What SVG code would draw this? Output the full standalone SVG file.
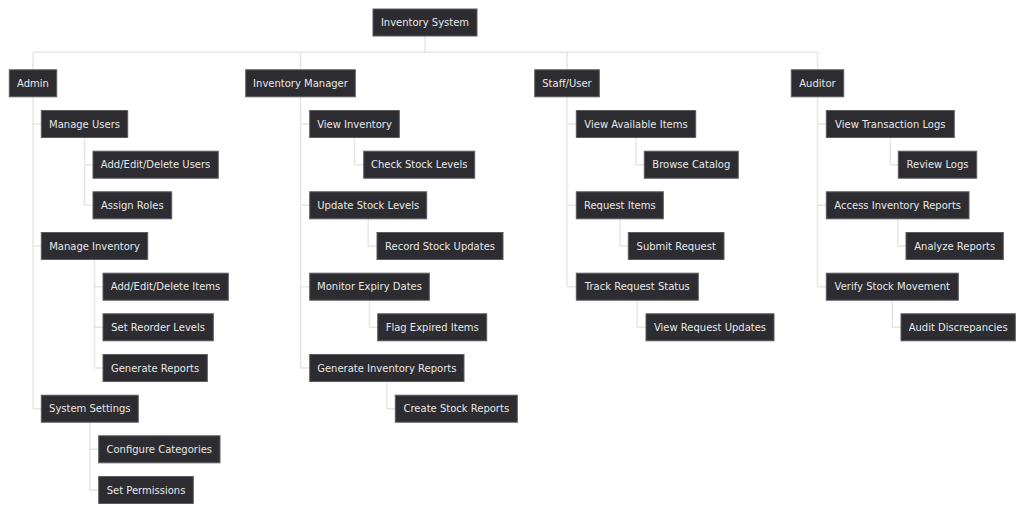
<svg xmlns="http://www.w3.org/2000/svg" width="1024" height="512" viewBox="0 0 1024 512">
<style>
.n rect{fill:#2c2c31;stroke:#5c5c60;stroke-width:1}
.n text{fill:#e8e8e8;font-family:"DejaVu Sans",sans-serif;font-size:10px;text-anchor:middle}
#connectors path{fill:none;stroke:#e6e6e6;stroke-width:1.5}
</style>
<rect width="1024" height="512" fill="#ffffff"/>
<g id="connectors">
<path d="M425 36V52.3M33 52.3H817.5M33 52.3V69.8M300.5 52.3V69.8M567 52.3V69.8M817.5 52.3V69.8"/>
<path d="M33 97V408.7M33 124H41.3M33 246H41.3M33 408.7H41.3"/>
<path d="M84.5 137.5V205.3M84.5 164.7H93M84.5 205.3H93"/>
<path d="M94.5 259.5V368M94.5 286.7H103M94.5 327.3H103M94.5 368H103"/>
<path d="M89.8 422.2V490M89.8 449.3H98.7M89.8 490H98.7"/>
<path d="M300.5 97V368M300.5 124H309.7M300.5 205.3H309.7M300.5 286.7H309.7M300.5 368H309.7"/>
<path d="M354.5 137.5V164.7H363.7M368.2 218.8V246H377M369.5 300.2V327.3H377.7M386.8 381.5V408.7H395.3"/>
<path d="M567 97V286.7M567 124H576.3M567 205.3H576.3M567 286.7H576.3"/>
<path d="M636 137.5V164.7H644.3M619.8 218.8V246H628.3M637.3 300.2V327.3H646"/>
<path d="M817.5 97V286.7M817.5 124H826.3M817.5 205.3H826.3M817.5 286.7H826.3"/>
<path d="M890.3 137.5V164.7H898.3M897.7 218.8V246H906M892.3 300.2V327.3H901"/>
</g>
<g id="root" class="n"><rect x="373" y="9" width="104" height="27"/><text x="425" y="26">Inventory System</text></g>

<g id="admin" class="n"><rect x="9.3" y="69.8" width="47.4" height="27"/><text x="33" y="86.9">Admin</text></g>
<g id="manage-users" class="n"><rect x="41.3" y="110.5" width="86.4" height="27"/><text x="84.5" y="127.6">Manage Users</text></g>
<g id="add-users" class="n"><rect x="93" y="151.2" width="125.3" height="27"/><text x="155.6" y="168.3">Add/Edit/Delete Users</text></g>
<g id="assign-roles" class="n"><rect x="93" y="191.8" width="78.7" height="27"/><text x="132.3" y="208.9">Assign Roles</text></g>
<g id="manage-inventory" class="n"><rect x="41.3" y="232.5" width="106.4" height="27"/><text x="94.5" y="249.6">Manage Inventory</text></g>
<g id="add-items" class="n"><rect x="103" y="273.2" width="125.3" height="27"/><text x="165.6" y="290.3">Add/Edit/Delete Items</text></g>
<g id="reorder" class="n"><rect x="103" y="313.8" width="110.3" height="27"/><text x="158.1" y="330.9">Set Reorder Levels</text></g>
<g id="gen-reports" class="n"><rect x="103" y="354.5" width="104.3" height="27"/><text x="155.1" y="371.6">Generate Reports</text></g>
<g id="system-settings" class="n"><rect x="41.3" y="395.2" width="97" height="27"/><text x="89.8" y="412.3">System Settings</text></g>
<g id="configure-categories" class="n"><rect x="98.7" y="435.8" width="121.3" height="27"/><text x="159.3" y="452.9">Configure Categories</text></g>
<g id="set-permissions" class="n"><rect x="98.7" y="476.5" width="94.6" height="27"/><text x="146" y="493.6">Set Permissions</text></g>

<g id="inventory-manager" class="n"><rect x="245.7" y="69.8" width="109.6" height="27"/><text x="300.5" y="86.9">Inventory Manager</text></g>
<g id="view-inventory" class="n"><rect x="309.7" y="110.5" width="89.6" height="27"/><text x="354.5" y="127.6">View Inventory</text></g>
<g id="check-stock" class="n"><rect x="363.7" y="151.2" width="111" height="27"/><text x="419.2" y="168.3">Check Stock Levels</text></g>
<g id="update-stock" class="n"><rect x="309.7" y="191.8" width="117" height="27"/><text x="368.2" y="208.9">Update Stock Levels</text></g>
<g id="record-updates" class="n"><rect x="377" y="232.5" width="126" height="27"/><text x="440" y="249.6">Record Stock Updates</text></g>
<g id="monitor-expiry" class="n"><rect x="309.7" y="273.2" width="119.6" height="27"/><text x="369.5" y="290.3">Monitor Expiry Dates</text></g>
<g id="flag-expired" class="n"><rect x="377.7" y="313.8" width="109" height="27"/><text x="432.2" y="330.9">Flag Expired Items</text></g>
<g id="gen-inv-reports" class="n"><rect x="309.7" y="354.5" width="154.3" height="27"/><text x="386.8" y="371.6">Generate Inventory Reports</text></g>
<g id="create-stock-reports" class="n"><rect x="395.3" y="395.2" width="122" height="27"/><text x="456.3" y="412.3">Create Stock Reports</text></g>

<g id="staff-user" class="n"><rect x="534.7" y="69.8" width="64.6" height="27"/><text x="567" y="86.9">Staff/User</text></g>
<g id="view-available" class="n"><rect x="576.3" y="110.5" width="119.4" height="27"/><text x="636" y="127.6">View Available Items</text></g>
<g id="browse-catalog" class="n"><rect x="644.3" y="151.2" width="94" height="27"/><text x="691.3" y="168.3">Browse Catalog</text></g>
<g id="request-items" class="n"><rect x="576.3" y="191.8" width="87" height="27"/><text x="619.8" y="208.9">Request Items</text></g>
<g id="submit-request" class="n"><rect x="628.3" y="232.5" width="95.7" height="27"/><text x="676.2" y="249.6">Submit Request</text></g>
<g id="track-request" class="n"><rect x="576.3" y="273.2" width="122" height="27"/><text x="637.3" y="290.3">Track Request Status</text></g>
<g id="view-request-updates" class="n"><rect x="646" y="313.8" width="128" height="27"/><text x="710" y="330.9">View Request Updates</text></g>

<g id="auditor" class="n"><rect x="791.3" y="69.8" width="52.4" height="27"/><text x="817.5" y="86.9">Auditor</text></g>
<g id="view-logs" class="n"><rect x="826.3" y="110.5" width="128" height="27"/><text x="890.3" y="127.6">View Transaction Logs</text></g>
<g id="review-logs" class="n"><rect x="898.3" y="151.2" width="78.4" height="27"/><text x="937.5" y="168.3">Review Logs</text></g>
<g id="access-reports" class="n"><rect x="826.3" y="191.8" width="142.7" height="27"/><text x="897.7" y="208.9">Access Inventory Reports</text></g>
<g id="analyze-reports" class="n"><rect x="906" y="232.5" width="97.3" height="27"/><text x="954.7" y="249.6">Analyze Reports</text></g>
<g id="verify-movement" class="n"><rect x="826.3" y="273.2" width="132" height="27"/><text x="892.3" y="290.3">Verify Stock Movement</text></g>
<g id="audit-discrepancies" class="n"><rect x="901" y="313.8" width="114.3" height="27"/><text x="958.2" y="330.9">Audit Discrepancies</text></g>
</svg>
